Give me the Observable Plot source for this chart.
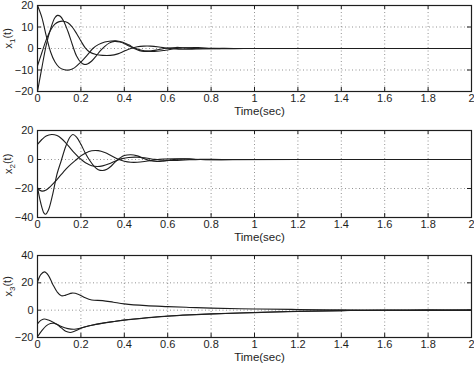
<!DOCTYPE html>
<html><head><meta charset="utf-8">
<script src="https://cdn.jsdelivr.net/npm/d3@7"></script>
<script src="https://cdn.jsdelivr.net/npm/@observablehq/plot@0.6"></script>
<style>
body{margin:0;background:#fff;}
#chart svg{display:block;}
</style></head><body><div id="chart"></div>
<script>
const xTicks = [0,0.2,0.4,0.6,0.8,1,1.2,1.4,1.6,1.8,2];
const xTickLabels = ["0","0.2","0.4","0.6","0.8","1","1.2","1.4","1.6","1.8","2"];
const xLabel = "Time(sec)";

// x1(t)
const x1a = [[0,20],[0.02,14.5],[0.04,6],[0.06,-1.5],[0.08,-6.2],[0.10,-8.8],[0.12,-9.8],[0.146,-10],[0.17,-9],[0.20,-6.3],[0.23,-3],[0.255,0],[0.28,1.8],[0.31,3],[0.34,3.5],[0.36,3.6],[0.39,3],[0.42,1.7],[0.45,0.1],[0.48,-0.8],[0.51,-1.2],[0.55,-1.3],[0.59,-0.8],[0.64,0],[0.69,0.35],[0.74,0.4],[0.8,0.1],[0.86,-0.1],[0.95,0],[1.2,0],[2,0]];
const x1b = [[0,-20],[0.02,-9],[0.04,1.5],[0.06,9],[0.08,14.3],[0.092,15.4],[0.105,15],[0.12,12.8],[0.14,8],[0.16,2],[0.18,-3.5],[0.20,-6.5],[0.215,-7.4],[0.23,-7.2],[0.25,-5.8],[0.27,-3.5],[0.29,-1],[0.31,1],[0.33,2.5],[0.355,3.3],[0.38,3],[0.41,1.8],[0.44,0.2],[0.47,-1],[0.49,-1.4],[0.52,-1.2],[0.56,-0.5],[0.6,0.2],[0.64,0.5],[0.68,0.3],[0.72,0],[0.78,-0.15],[0.85,0],[1.2,0],[2,0]];
const x1c = [[0,-8],[0.02,-2],[0.04,4],[0.06,8.5],[0.08,11.3],[0.10,12.5],[0.118,12.7],[0.14,12],[0.16,10],[0.18,7],[0.20,3.5],[0.22,0.3],[0.24,-1.6],[0.27,-2.8],[0.30,-3.2],[0.336,-3.2],[0.37,-2.5],[0.40,-1.2],[0.43,0],[0.46,0.8],[0.49,1.1],[0.52,1.1],[0.56,0.7],[0.60,0.1],[0.65,-0.3],[0.70,-0.3],[0.76,-0.1],[0.85,0.05],[0.95,0],[1.2,0],[2,0]];

// x2(t)
const x2a = [[0,10.5],[0.02,13.8],[0.04,16.2],[0.065,17.2],[0.09,16.5],[0.11,14.5],[0.13,11.5],[0.15,8],[0.17,4.5],[0.19,1.5],[0.21,-1],[0.23,-3],[0.25,-4.3],[0.275,-4.8],[0.30,-4.4],[0.33,-3],[0.36,-1],[0.39,0.6],[0.42,1.4],[0.46,1.6],[0.50,1],[0.54,0.1],[0.58,-0.5],[0.63,-0.6],[0.68,-0.3],[0.75,0.1],[0.85,0],[1.2,0],[2,0]];
const x2b = [[0,-19],[0.015,-30],[0.03,-37],[0.037,-37.8],[0.05,-35],[0.07,-24],[0.09,-10],[0.11,-0.5],[0.13,9],[0.15,15.5],[0.163,17.2],[0.18,15.5],[0.20,10.5],[0.22,4.5],[0.24,-0.5],[0.26,-4.5],[0.28,-7],[0.30,-7.6],[0.32,-6.8],[0.34,-4.5],[0.36,-1.5],[0.38,1],[0.40,2.7],[0.43,3.3],[0.46,2.5],[0.49,0.7],[0.52,-0.8],[0.55,-1.4],[0.58,-1.1],[0.62,-0.2],[0.66,0.4],[0.70,0.4],[0.75,0],[0.8,-0.15],[0.9,0],[1.2,0],[2,0]];
const x2c = [[0,-20],[0.02,-21.8],[0.04,-21],[0.06,-18.5],[0.08,-15.5],[0.10,-12],[0.12,-8.5],[0.14,-5.2],[0.16,-2.5],[0.18,0],[0.20,2.5],[0.22,4.3],[0.25,6],[0.28,6.1],[0.31,4.8],[0.34,2.6],[0.37,0.3],[0.40,-1.2],[0.43,-1.9],[0.46,-1.9],[0.50,-1.2],[0.54,-0.3],[0.58,0.3],[0.63,0.5],[0.68,0.3],[0.75,0],[0.85,-0.1],[1.2,0],[2,0]];

// x3(t)
const x3a = [[0,20.5],[0.015,26],[0.032,28],[0.05,25.5],[0.07,19],[0.09,13.5],[0.11,10.5],[0.13,11],[0.16,12.5],[0.19,11.5],[0.22,9],[0.25,7.4],[0.30,7],[0.35,5.8],[0.4,4.6],[0.5,3.3],[0.6,2.6],[0.7,2.0],[0.8,1.5],[1.0,0.9],[1.2,0.5],[1.4,0.2],[1.6,0.1],[1.8,0],[2,0]];
const x3b = [[0,-10],[0.015,-7.5],[0.03,-6.5],[0.05,-7.2],[0.08,-9.5],[0.11,-12],[0.14,-13.5],[0.17,-14],[0.20,-13],[0.25,-11],[0.3,-9.5],[0.35,-8.3],[0.4,-7.2],[0.5,-5.6],[0.6,-4.3],[0.7,-3.4],[0.8,-2.7],[1.0,-1.7],[1.2,-0.8],[1.4,-0.3],[1.6,-0.1],[1.8,0],[2,0]];
const x3c = [[0,-19.5],[0.02,-15],[0.04,-11.5],[0.06,-9.8],[0.075,-9.6],[0.09,-10.5],[0.11,-13],[0.13,-15.5],[0.15,-16.3],[0.17,-15.5],[0.20,-13.3],[0.25,-11.1],[0.3,-9.6],[0.35,-8.4],[0.4,-7.3],[0.5,-5.7],[0.6,-4.4],[0.7,-3.5],[0.8,-2.8],[1.0,-1.8],[1.2,-0.9],[1.4,-0.35],[1.6,-0.1],[1.8,0],[2,0]];

const panels = [
  {series:[x1a,x1b,x1c], yDomain:[-20,20], yTicks:[-20,-10,0,10,20], sub:"1", height:125, mb:34},
  {series:[x2a,x2b,x2c], yDomain:[-40,20], yTicks:[-40,-20,0,20], sub:"2", height:125, mb:33},
  {series:[x3a,x3b,x3c], yDomain:[-20,40], yTicks:[-20,0,20,40], sub:"3", height:119, mb:32}
];

const W = 474, ML = 37, MR = 3, MT = 5;
const font = "'Liberation Sans', Arial, Helvetica, sans-serif";
const ink = "#1e1e1e";

for (const p of panels) {
  const ih = p.height - MT - p.mb, iw = W - ML - MR;
  const data = p.series.flatMap((s, k) => s.map(([t, v]) => ({t, v, k})));
  const labelText = "x" + p.sub + "(t)";
  const svg = Plot.plot({
    width: W, height: p.height,
    marginLeft: ML, marginRight: MR, marginTop: MT, marginBottom: p.mb,
    style: {fontFamily: font, fontSize: "11px", color: ink, background: "#fff", overflow: "visible"},
    x: {domain: [0, 2]},
    y: {domain: p.yDomain},
    marks: [
      Plot.ruleX(xTicks, {stroke: "#777", strokeWidth: 0.8, strokeDasharray: "1,2.5"}),
      Plot.ruleY(p.yTicks, {stroke: "#777", strokeWidth: 0.8, strokeDasharray: "1,2.5"}),
      Plot.line(data, {x: "t", y: "v", z: "k", stroke: ink, strokeWidth: 1.1, curve: "catmull-rom"}),
      Plot.ruleX(xTicks, {stroke: ink, insetTop: ih - 4}),
      Plot.ruleX(xTicks, {stroke: ink, insetBottom: ih - 4}),
      Plot.ruleY(p.yTicks, {stroke: ink, insetRight: iw - 4}),
      Plot.ruleY(p.yTicks, {stroke: ink, insetLeft: iw - 4}),
      Plot.frame({stroke: ink, strokeWidth: 1.2}),
      Plot.axisX(xTicks, {tickSize: 0, tickPadding: 3, fontSize: 11, label: null,
        tickFormat: d => xTickLabels[xTicks.indexOf(d)]}),
      Plot.axisY(p.yTicks, {tickSize: 0, tickPadding: 4, fontSize: 11, label: null}),
      Plot.text([labelText], {frameAnchor: "left", dx: -29, rotate: -90, fontSize: 11, fill: ink}),
      Plot.text([xLabel], {frameAnchor: "bottom", dx: 5, dy: 23, fontSize: 11.5, fill: ink})
    ]
  });
  d3.select(svg).selectAll("text").filter(function(){ return this.textContent === labelText; })
    .each(function(){
      const el = d3.select(this);
      el.text(null);
      el.append("tspan").text("x");
      el.append("tspan").attr("dy", "0.35em").attr("font-size", 8).text(p.sub);
      el.append("tspan").attr("dy", "-0.35em").text("(t)");
    });
  document.getElementById("chart").appendChild(svg);
}
</script></body></html>
